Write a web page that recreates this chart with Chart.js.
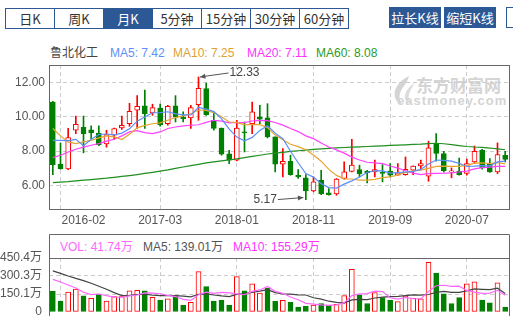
<!DOCTYPE html>
<html lang="zh-CN">
<head>
<meta charset="utf-8">
<title>鲁北化工 月K</title>
<script src="https://cdn.jsdelivr.net/npm/chart.js@4.4.1/dist/chart.umd.min.js"></script>
<style>
  body { margin: 0; width: 513px; height: 316px; position: relative; overflow: hidden; background: #fff;
         font-family: "Liberation Sans", Arial, "Noto Sans CJK SC", sans-serif; }
  .tabs { position: absolute; left: 5px; top: 8px; display: flex; border: 1px solid #2c5896; }
  .tabs div { width: 48px; height: 19px; line-height: 19px; text-align: center; font-size: 13px; color: #333;
              border-left: 1px solid #2c5896; font-family: "Noto Sans CJK SC", sans-serif; }
  .tabs div:first-child { border-left: 0; }
  .tabs .on { background: #2c5896; color: #fff; }
  .btn { position: absolute; top: 7px; width: 52px; height: 21px; line-height: 21px; text-align: center;
         font-size: 13px; color: #fff; background: #2c5896; font-family: "Noto Sans CJK SC", sans-serif; }
  .btn.blank { background: #fff; border: 1px solid #2c5896; height: 19px; width: 30px; }
  .wm { position: absolute; color: #d4d4d4; font-weight: bold; white-space: nowrap; }
  .legend { position: absolute; font-size: 12px; line-height: 14px; white-space: nowrap; }
  canvas { position: absolute; left: 0; }
  #priceChart { top: 60px; }
  #volChart { top: 230px; }
</style>
</head>
<body>
<div class="tabs"><div>日K</div><div>周K</div><div class="on">月K</div><div>5分钟</div><div>15分钟</div><div>30分钟</div><div>60分钟</div></div>
<div class="btn" style="left:389px">拉长K线</div>
<div class="btn" style="left:444px">缩短K线</div>
<div class="btn blank" style="left:506px"></div>

<svg style="position:absolute;left:391px;top:75px" width="26" height="30" viewBox="0 0 26 30">
  <path d="M18 1 C8 6 2 14 4 22 C5 26 8 29 11 29 C7 24 8 17 13 11 C15 8 17 5 18 1 Z" fill="#d4d4d4"/>
  <path d="M24 8 C17 12 13 18 14 24 C15 27 17 28 19 28 C16 23 18 16 24 8 Z" fill="#dcdcdc"/>
</svg>
<div class="wm" style="left:416px;top:77px;font-size:17px;line-height:19px;">东方财富网</div>
<div class="wm" style="left:397px;top:94px;font-size:13px;line-height:14px;letter-spacing:1px;">eastmoney.com</div>

<div class="legend" style="left:50px;top:46px;color:#444">鲁北化工</div>
<div class="legend" id="lgMa5" style="left:110px;top:46px;color:#5b8ff9"></div>
<div class="legend" id="lgMa10" style="left:173px;top:46px;color:#e0a030"></div>
<div class="legend" id="lgMa20" style="left:247px;top:46px;color:#ff33ff"></div>
<div class="legend" id="lgMa60" style="left:316px;top:46px;color:#2a9a2a"></div>

<div class="legend" id="lgVol" style="left:60px;top:240px;color:#ff66ff"></div>
<div class="legend" id="lgVolMa5" style="left:143px;top:240px;color:#555"></div>
<div class="legend" id="lgVolMa10" style="left:233px;top:240px;color:#ff33ff"></div>

<canvas id="priceChart" width="513" height="175"></canvas>
<canvas id="volChart" width="513" height="86"></canvas>

<script>
const months = [
  '2016-01','2016-02','2016-03','2016-04','2016-05','2016-06','2016-07','2016-08','2016-09','2016-10','2016-11','2016-12',
  '2017-01','2017-02','2017-03','2017-04','2017-05','2017-06','2017-07','2017-08','2017-09','2017-10','2017-11','2017-12',
  '2018-01','2018-02','2018-03','2018-04','2018-05','2018-06','2018-07','2018-08','2018-09','2018-10','2018-11','2018-12',
  '2019-01','2019-02','2019-03','2019-04','2019-05','2019-06','2019-07','2019-08','2019-09','2019-10','2019-11','2019-12',
  '2020-01','2020-02','2020-03','2020-04','2020-05','2020-06','2020-07','2020-08','2020-09','2020-10','2020-11','2020-12'
];
const xTickLabels = ['2016-02', '2017-03', '2018-01', '2018-11', '2019-09', '2020-07'];
const priceTicks = [6, 8, 10, 12];
const volTicks = [0, 150.13, 300.27, 450.4];

const opens = [10.87,7.24,6.96,9.22,9.39,9.24,9.06,8.42,8.93,9.35,9.61,10.39,10.64,10.23,10.52,9.61,10.64,9.98,9.94,10.72,
  11.65,9.80,9.35,7.84,7.47,9.12,9.61,10.00,9.94,8.83,7.23,7.41,6.59,6.44,5.68,6.30,5.56,5.50,6.40,6.82,
  6.92,6.82,6.79,6.75,6.84,6.59,6.63,6.88,7.14,6.53,8.44,7.86,6.79,6.84,6.69,7.37,8.05,7.27,6.79,7.76];
const highs = [10.91,8.47,9.33,10.05,10.05,9.47,9.47,9.22,9.35,10.05,10.79,11.24,11.57,10.74,10.75,10.68,11.24,10.29,10.68,12.33,
  11.98,10.29,9.35,8.05,9.80,9.70,10.87,10.68,10.77,8.83,8.15,7.76,6.92,6.63,6.49,6.88,5.81,6.40,7.37,8.69,
  7.18,6.88,7.47,7.21,7.27,7.27,7.66,7.14,7.47,8.58,9.02,7.99,7.02,7.60,7.53,8.30,8.11,7.56,8.48,7.99];
const lows = [6.63,6.94,6.92,9.02,7.90,8.73,8.32,8.23,8.69,9.26,9.45,9.32,9.32,10.09,9.45,9.51,9.70,9.70,9.32,9.80,
  10.09,9.22,7.76,7.27,7.43,7.95,9.02,9.61,8.77,6.79,6.49,6.59,6.40,5.17,5.62,5.46,5.42,5.42,6.36,6.79,
  6.49,6.14,6.49,6.20,6.49,6.59,6.59,6.63,6.94,6.24,7.41,6.79,6.44,6.59,6.59,7.27,6.94,6.75,6.69,7.37];
const closes = [7.21,6.97,8.79,9.57,9.02,9.08,8.38,8.96,9.32,9.51,10.33,10.62,10.19,10.54,9.55,10.62,10.00,9.90,10.54,11.67,
  10.13,9.32,7.82,7.47,9.35,9.06,10.29,9.86,8.83,7.23,7.41,6.63,6.49,5.68,6.20,5.52,5.46,6.36,6.79,7.18,
  6.67,6.74,6.92,6.70,6.59,6.73,6.94,7.12,7.27,8.19,7.86,6.86,6.84,6.63,7.27,7.99,7.02,6.79,7.80,7.51];

const ma5 = [8.63,8.63,8.61,8.69,8.31,8.69,8.97,9.00,8.95,9.05,9.30,9.75,9.99,10.24,10.25,10.30,10.18,10.12,10.12,10.55,
  10.45,10.31,9.90,9.28,8.82,8.60,8.80,9.21,9.48,9.05,8.72,7.99,7.32,6.69,6.48,6.10,5.87,5.84,6.07,6.26,
  6.49,6.75,6.86,6.84,6.72,6.74,6.78,6.82,6.93,7.25,7.48,7.46,7.41,7.28,7.10,7.12,7.15,7.14,7.37,7.42];
const ma10 = [9.32,8.89,8.54,8.44,8.54,8.63,8.77,8.89,8.83,8.68,8.99,9.36,9.50,9.60,9.65,9.80,9.96,10.06,10.18,10.40,
  10.38,10.25,10.01,9.70,9.68,9.53,9.56,9.55,9.38,8.94,8.66,8.40,8.26,8.08,7.77,7.41,6.93,6.58,6.38,6.37,
  6.30,6.31,6.35,6.45,6.49,6.61,6.76,6.84,6.89,6.99,7.11,7.12,7.11,7.11,7.17,7.30,7.31,7.27,7.33,7.25];
const ma20 = [7.62,7.76,7.95,8.11,8.23,8.34,8.44,8.58,8.69,8.89,9.12,9.20,9.08,9.02,9.12,9.32,9.41,9.47,9.51,9.54,
  9.68,9.80,9.75,9.65,9.67,9.66,9.76,9.80,9.78,9.67,9.52,9.32,9.14,8.89,8.73,8.47,8.24,8.07,7.88,7.65,
  7.48,7.35,7.31,7.27,7.13,7.01,6.85,6.71,6.63,6.68,6.70,6.71,6.73,6.78,6.83,6.96,7.03,7.06,7.11,7.11];
const ma60 = [6.16,6.19,6.22,6.26,6.30,6.34,6.38,6.42,6.47,6.52,6.57,6.63,6.70,6.76,6.83,6.90,6.99,7.07,7.15,7.23,
  7.31,7.37,7.43,7.49,7.55,7.62,7.69,7.76,7.83,7.88,7.93,7.98,8.02,8.06,8.10,8.13,8.16,8.19,8.21,8.23,
  8.25,8.27,8.29,8.31,8.33,8.35,8.37,8.39,8.41,8.44,8.46,8.43,8.38,8.32,8.27,8.24,8.22,8.18,8.13,8.08];

// volume in 万
const volumes = [171.8,91.8,166,191.8,134.6,114.6,149,91.8,129,129,177.5,181,177.5,123,100,109,137,57,80,337,
  212,92,97,57,295,177,235,157.5,200.5,92,97,80,40,49,57,71,57,63,137,355,
  143,71,163,120,100,86,135,114,109,415,324,152,71,120,235,252,100,77,243,41.74];
// 1 = up month (red), 0 = down month (green)
const volUp = [0,0,1,1,0,1,0,1,1,1,1,1,0,1,0,1,0,0,1,1,0,0,0,0,1,0,1,1,0,0,
  1,0,0,0,1,0,0,1,1,1,0,0,1,0,0,1,1,1,1,1,0,0,0,0,1,1,0,0,1,0];
const volMa5 = [272,250,225,200,165,145,150,136,124,123,135,142,159,158,152,138,129,105,97,144,
  165,156,164,159,151,144,172,184,213,172,156,125,102,72,65,59,55,59,77,137,
  151,154,174,170,119,108,121,111,109,172,219,223,214,216,180,166,156,157,181,139.01];
const volMa10 = [343,322,300,280,262,240,215,190,162,137,138,146,148,141,137,137,136,132,127,148,
  151,142,134,128,147,154,164,174,186,162,150,149,143,142,119,108,90,81,74,101,
  105,104,117,124,128,130,137,142,140,146,164,172,163,163,176,193,189,186,199,155.29];

const RED = '#ff0000';
const GREEN = '#008000';
const FONT = '"Liberation Sans", Arial, "Noto Sans CJK SC", sans-serif';

Chart.defaults.font.family = FONT;
Chart.defaults.font.size = 12;
Chart.defaults.color = '#555';

const last = arr => arr[arr.length - 1];
document.getElementById('lgMa5').textContent = 'MA5: ' + last(ma5).toFixed(2);
document.getElementById('lgMa10').textContent = 'MA10: ' + last(ma10).toFixed(2);
document.getElementById('lgMa20').textContent = 'MA20: ' + last(ma20).toFixed(2);
document.getElementById('lgMa60').textContent = 'MA60: ' + last(ma60).toFixed(2);
document.getElementById('lgVol').textContent = 'VOL: ' + last(volumes).toFixed(2) + '万';
document.getElementById('lgVolMa5').textContent = 'MA5: ' + last(volMa5).toFixed(2) + '万';
document.getElementById('lgVolMa10').textContent = 'MA10: ' + last(volMa10).toFixed(2) + '万';

const isUp = closes.map((c, i) => c >= opens[i]);
const candleColor = isUp.map(u => u ? RED : GREEN);
const bodyFill = isUp.map(u => u ? '#fff' : GREEN);

const monthGrid = ctx => xTickLabels.includes(months[ctx.index]) ? '#ccc' : 'transparent';

function maLine(label, data, color) {
  return { type: 'line', label, data, borderColor: color, borderWidth: 1.2, pointRadius: 0, tension: 0, order: 1 };
}

function arrow(ctx, x1, y1, x2, y2) {
  const ang = Math.atan2(y2 - y1, x2 - x1);
  ctx.beginPath();
  ctx.moveTo(x1, y1);
  ctx.lineTo(x2, y2);
  ctx.stroke();
  ctx.beginPath();
  ctx.moveTo(x2, y2);
  ctx.lineTo(x2 - 6 * Math.cos(ang - 0.45), y2 - 6 * Math.sin(ang - 0.45));
  ctx.lineTo(x2 - 6 * Math.cos(ang + 0.45), y2 - 6 * Math.sin(ang + 0.45));
  ctx.closePath();
  ctx.fill();
}

// frame + month labels + high/low marks
const pricePlugin = {
  id: 'pricePlugin',
  afterDraw(chart) {
    const { ctx, chartArea: a, scales: { x, y } } = chart;
    ctx.save();
    ctx.strokeStyle = '#666';
    ctx.lineWidth = 1;
    ctx.strokeRect(a.left + 0.5, a.top + 0.5, a.width, a.height - 1);

    ctx.font = '12px ' + FONT;
    ctx.fillStyle = '#555';
    ctx.textBaseline = 'middle';
    xTickLabels.forEach(label => {
      const px = x.getPixelForValue(months.indexOf(label));
      const w = ctx.measureText(label).width;
      let tx = px - w / 2;
      if (tx < a.left) tx = px + 1;
      ctx.fillText(label, tx, a.bottom + 11);
    });

    const hi = highs.indexOf(Math.max(...highs));
    const lo = lows.indexOf(Math.min(...lows));
    ctx.strokeStyle = '#555';
    let px = x.getPixelForValue(hi), py = y.getPixelForValue(highs[hi]);
    ctx.fillStyle = '#555';
    arrow(ctx, px + 30, py - 4, px + 1.5, py);
    ctx.fillStyle = '#444';
    ctx.textAlign = 'left';
    ctx.fillText(highs[hi].toFixed(2), px + 31, py - 4);

    px = x.getPixelForValue(lo);
    py = y.getPixelForValue(lows[lo]);
    ctx.fillStyle = '#555';
    arrow(ctx, px - 28, py, px - 2.5, py - 2);
    ctx.fillStyle = '#444';
    ctx.textAlign = 'right';
    ctx.fillText(lows[lo].toFixed(2), px - 29, py);
    ctx.restore();
  }
};

const volPlugin = {
  id: 'volPlugin',
  afterDraw(chart) {
    const { ctx, chartArea: a, height } = chart;
    ctx.save();
    ctx.strokeStyle = '#666';
    ctx.lineWidth = 1;
    ctx.beginPath();
    ctx.moveTo(a.left + 0.5, height);
    ctx.lineTo(a.left + 0.5, 4.5);
    ctx.lineTo(a.right + 0.5, 4.5);
    ctx.lineTo(a.right + 0.5, height);
    ctx.moveTo(a.left, a.top + 0.5);
    ctx.lineTo(a.right, a.top + 0.5);
    ctx.stroke();
    ctx.restore();
  }
};

new Chart(document.getElementById('priceChart'), {
  type: 'bar',
  data: {
    labels: months,
    datasets: [
      maLine('MA5', ma5, '#5b8ff9'),
      maLine('MA10', ma10, '#e5a530'),
      maLine('MA20', ma20, '#ff40ff'),
      maLine('MA60', ma60, '#1f8f1f'),
      {
        label: 'body',
        data: opens.map((o, i) => [o, closes[i]]),
        backgroundColor: bodyFill,
        borderColor: candleColor,
        borderWidth: 1,
        borderSkipped: false,
        barThickness: 5,
        minBarLength: 1,
        grouped: false,
        order: 2
      },
      {
        label: 'wick',
        data: lows.map((l, i) => [l, highs[i]]),
        backgroundColor: candleColor,
        barThickness: 1,
        grouped: false,
        order: 3
      }
    ]
  },
  options: {
    responsive: false,
    animation: false,
    events: [],
    layout: { padding: { top: 5, right: 4, left: 0, bottom: 0 } },
    plugins: { legend: { display: false }, tooltip: { enabled: false } },
    scales: {
      x: {
        offset: true,
        grid: { offset: false, color: monthGrid, drawTicks: false },
        border: { display: false, dash: [4, 3] },
        ticks: { display: false, autoSkip: false },
        afterFit: s => { s.height = 25; }
      },
      y: {
        min: 4.56,
        max: 13.03,
        afterBuildTicks: s => { s.ticks = priceTicks.map(v => ({ value: v })); },
        afterFit: s => { s.width = 49; s.paddingTop = 0; s.paddingBottom = 0; },
        ticks: { callback: v => Number(v).toFixed(2), color: '#555', padding: 4 },
        grid: { color: '#ccc', drawTicks: false },
        border: { display: false, dash: [4, 3] }
      }
    }
  },
  plugins: [pricePlugin]
});

new Chart(document.getElementById('volChart'), {
  type: 'bar',
  data: {
    labels: months,
    datasets: [
      { type: 'line', label: 'MA5', data: volMa5, borderColor: '#ff66ff', borderWidth: 1.2, pointRadius: 0, tension: 0, order: 1 },
      { type: 'line', label: 'MA10', data: volMa10, borderColor: '#444', borderWidth: 1.2, pointRadius: 0, tension: 0, order: 1 },
      {
        label: 'VOL',
        data: volumes,
        backgroundColor: volUp.map(u => u ? '#fff' : GREEN),
        borderColor: volUp.map(u => u ? RED : GREEN),
        borderWidth: 1,
        borderSkipped: false,
        barThickness: 5,
        order: 2
      }
    ]
  },
  options: {
    responsive: false,
    animation: false,
    events: [],
    layout: { padding: { top: 28, right: 4, left: 0, bottom: 4 } },
    plugins: { legend: { display: false }, tooltip: { enabled: false } },
    scales: {
      x: {
        offset: true,
        grid: { offset: false, color: monthGrid, drawTicks: false },
        border: { display: false, dash: [4, 3] },
        ticks: { display: false, autoSkip: false },
        afterFit: s => { s.height = 0; }
      },
      y: {
        min: 0,
        max: 450.4,
        afterBuildTicks: s => { s.ticks = volTicks.map(v => ({ value: v })); },
        afterFit: s => { s.width = 49; s.paddingTop = 0; s.paddingBottom = 0; },
        ticks: { callback: v => v === 0 ? '0' : Number(v).toFixed(1) + '万', color: '#555', padding: 7 },
        grid: { color: ctx => (ctx.tick.value > 0 && ctx.tick.value < 450) ? '#ccc' : 'transparent', drawTicks: false },
        border: { display: false, dash: [4, 3] }
      }
    }
  },
  plugins: [volPlugin]
});
</script>
</body>
</html>
